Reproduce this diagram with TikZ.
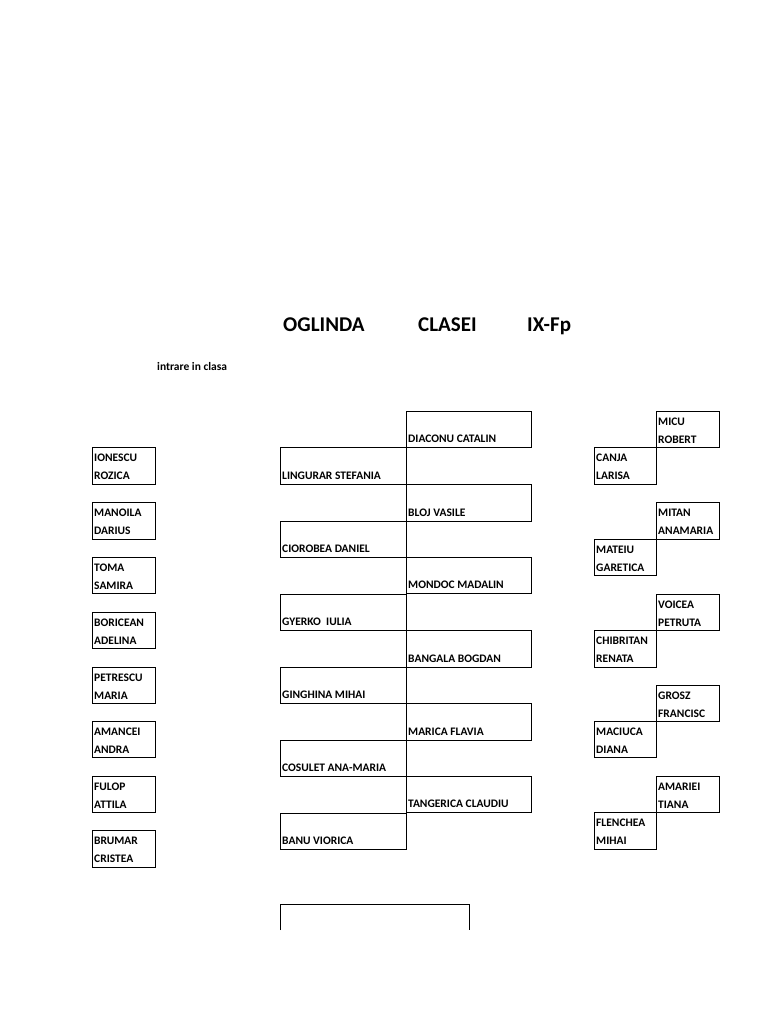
\documentclass[tikz,border=0pt]{standalone}
\usepackage{fontspec}
\setmainfont{Carlito}
\begin{document}
\begin{tikzpicture}[x=1pt,y=-1pt,
  box/.style={draw,line width=0.8pt,inner sep=0pt},
  txt/.style={anchor=base west,inner sep=0pt,font=\bfseries\fontsize{11.5}{12}\selectfont}]
\useasboundingbox (0,0) rectangle (768,1024);
% two-line box: name, x1,y1,x2,y2, line1, line2
\newcommand\tbox[7]{%
  \draw[box] (#2,#3) rectangle (#4,#5);
  \node[txt] (#1a) at (#2+2,#3+14) {#6};
  \node[txt] (#1b) at (#2+2,#3+32) {#7};}
\newcommand\obox[6]{%
  \draw[box] (#2,#3) rectangle (#4,#5);
  \node[txt] (#1) at (#2+2,#5-5) {#6};}
\node[anchor=base west,inner sep=0pt,font=\bfseries\fontsize{21}{24}\selectfont] (t1) at (283,331) {OGLINDA};
\node[anchor=base west,inner sep=0pt,font=\bfseries\fontsize{21}{24}\selectfont] (t2) at (418,331) {CLASEI};
\node[anchor=base west,inner sep=0pt,font=\bfseries\fontsize{21}{24}\selectfont] (t3) at (527,331) {IX-Fp};
\node[txt] (intr) at (157,370) {intrare in clasa};
% left column
\tbox{l1}{92}{447}{155}{484}{IONESCU}{ROZICA}
\tbox{l2}{92}{502}{155}{539}{MANOILA}{DARIUS}
\tbox{l3}{92}{557}{155}{593}{TOMA}{SAMIRA}
\tbox{l4}{92}{612}{155}{648}{BORICEAN}{ADELINA}
\tbox{l5}{92}{667}{155}{703}{PETRESCU}{MARIA}
\tbox{l6}{92}{721}{155}{757}{AMANCEI}{ANDRA}
\tbox{l7}{92}{776}{155}{812}{FULOP}{ATTILA}
\tbox{l8}{92}{830}{155}{867}{BRUMAR}{CRISTEA}
% middle left
\obox{m1}{280}{447}{406}{484}{LINGURAR STEFANIA}
\obox{m2}{280}{521}{406}{557}{CIOROBEA DANIEL}
\obox{m3}{280}{594}{406}{630}{GYERKO\ \ IULIA}
\obox{m4}{280}{667}{406}{703}{GINGHINA MIHAI}
\obox{m5}{280}{740}{406}{776}{COSULET ANA-MARIA}
\obox{m6}{280}{813}{406}{849}{BANU VIORICA}
% middle right
\obox{r1}{406}{411}{531}{447}{DIACONU CATALIN}
\obox{r2}{406}{484}{531}{521}{BLOJ VASILE}
\obox{r3}{406}{557}{531}{593}{MONDOC MADALIN}
\obox{r4}{406}{630}{531}{667}{BANGALA BOGDAN}
\obox{r5}{406}{703}{531}{740}{MARICA FLAVIA}
\obox{r6}{406}{776}{531}{812}{TANGERICA CLAUDIU}
% right top
\tbox{a1}{656}{411}{719}{447}{MICU}{ROBERT}
\tbox{a2}{656}{502}{719}{539}{MITAN}{ANAMARIA}
\tbox{a3}{656}{594}{719}{630}{VOICEA}{PETRUTA}
\tbox{a4}{656}{685}{719}{721}{GROSZ}{FRANCISC}
\tbox{a5}{656}{776}{719}{812}{AMARIEI}{TIANA}
% right lower
\tbox{b1}{594}{447}{656}{484}{CANJA}{LARISA}
\tbox{b2}{594}{539}{656}{575}{MATEIU}{GARETICA}
\tbox{b3}{594}{630}{656}{667}{CHIBRITAN}{RENATA}
\tbox{b4}{594}{721}{656}{757}{MACIUCA}{DIANA}
\tbox{b5}{594}{812}{656}{849}{FLENCHEA}{MIHAI}
% bottom open box
\draw[box] (280,930) -- (280,904) -- (469,904) -- (469,930);
\end{tikzpicture}
\end{document}
